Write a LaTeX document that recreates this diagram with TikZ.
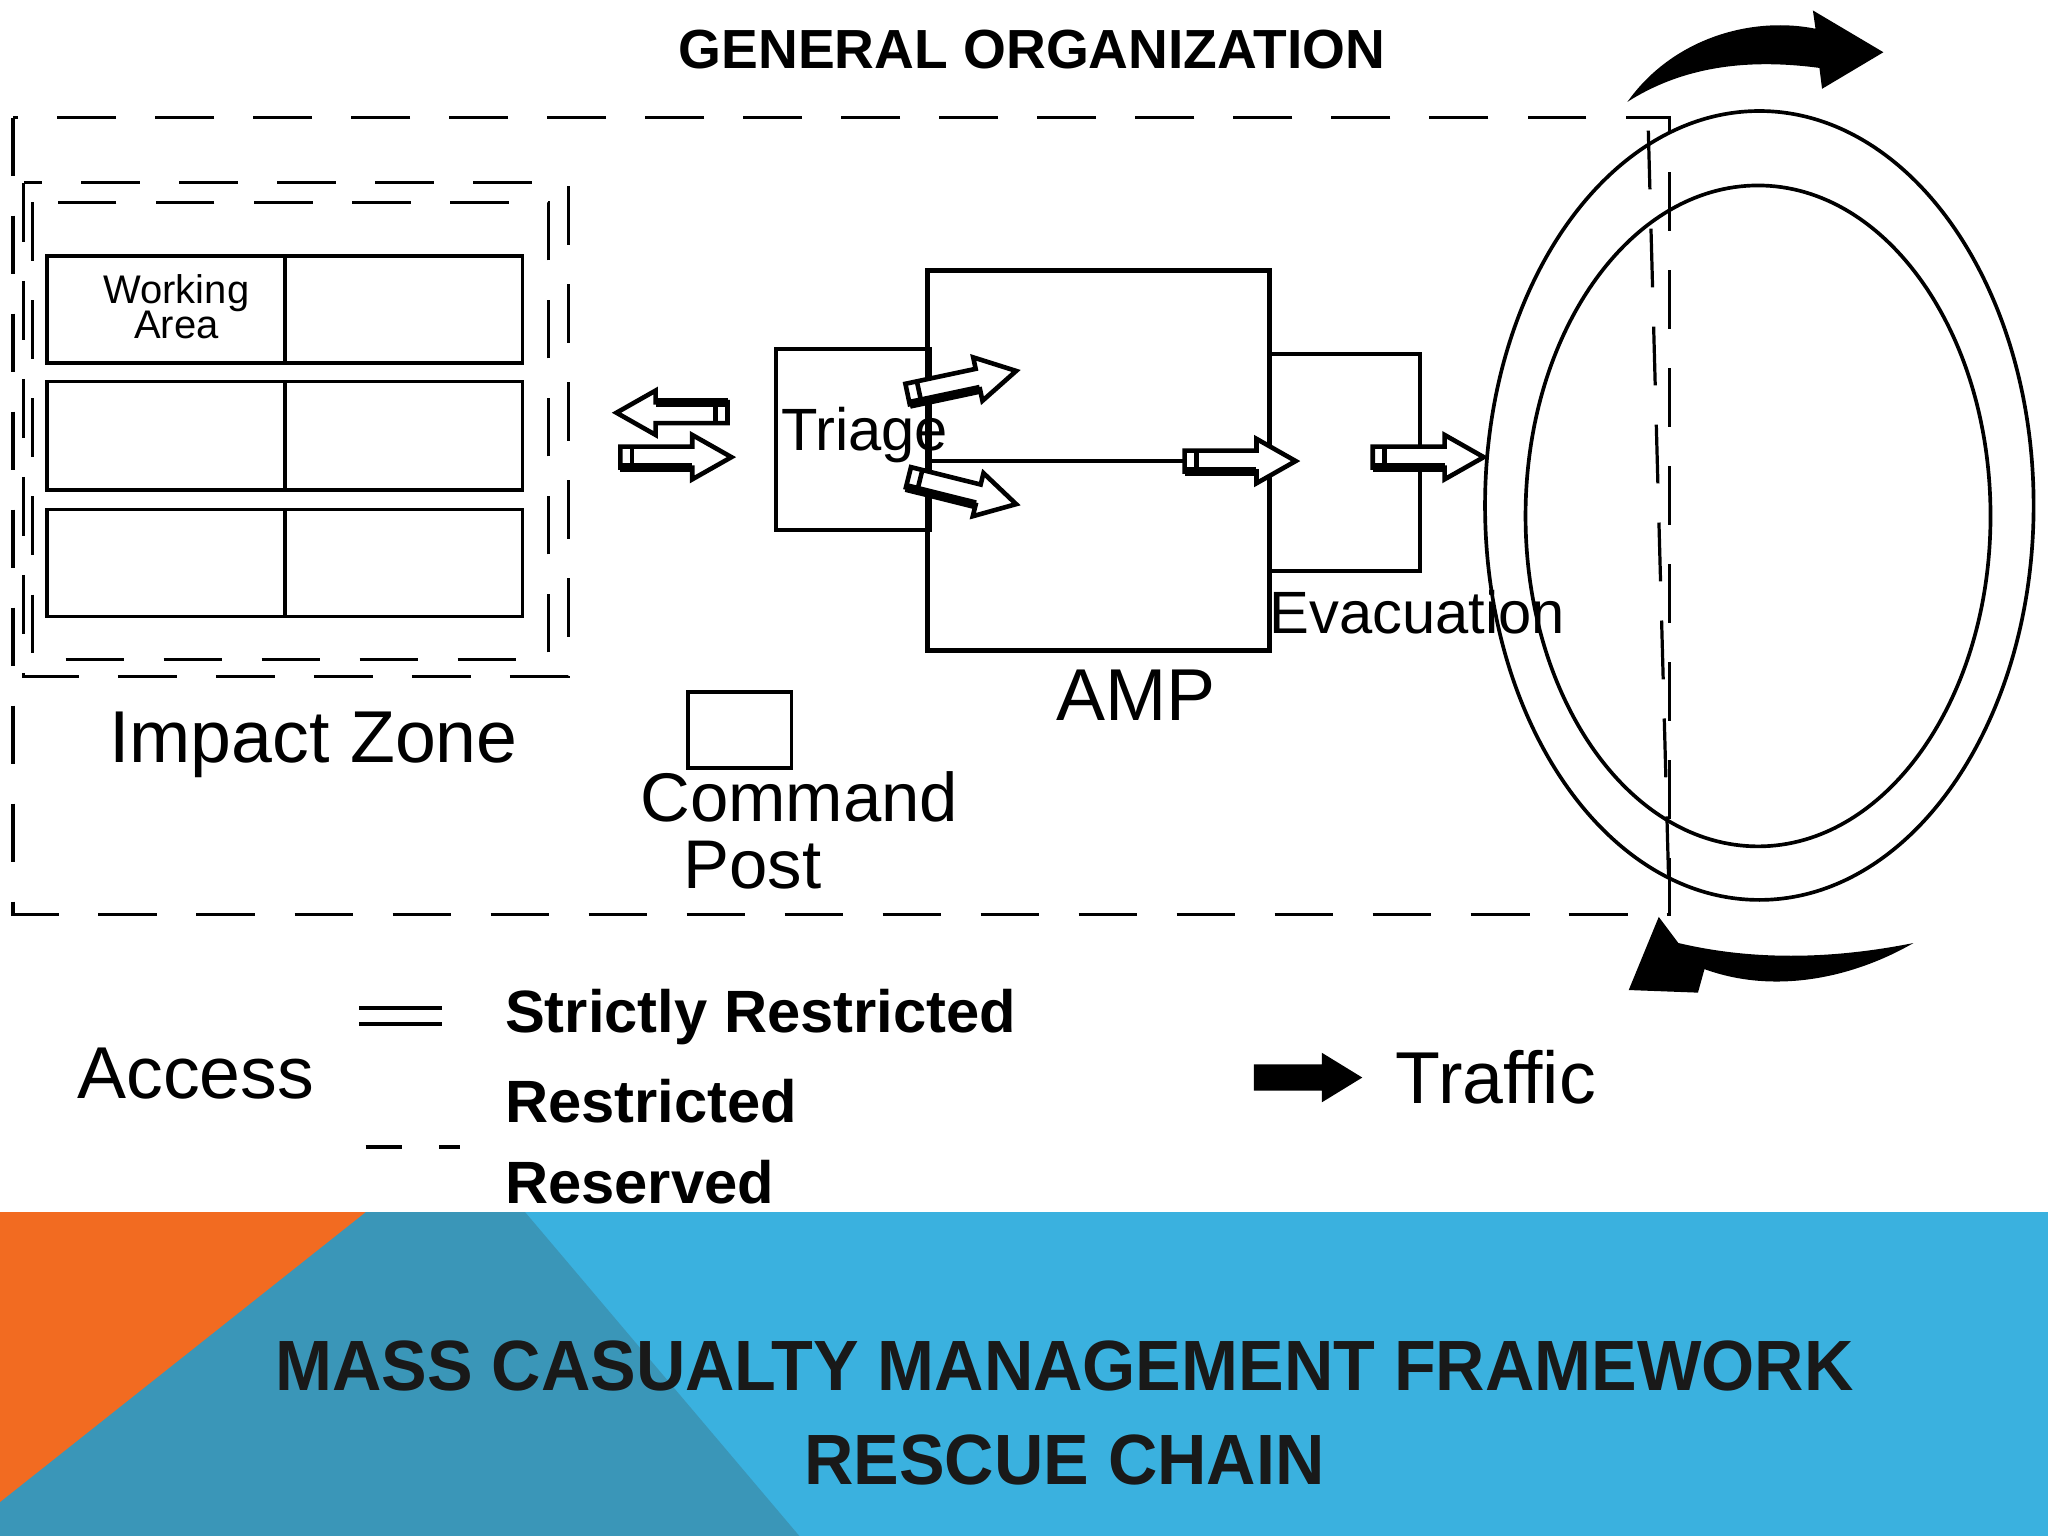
\documentclass[tikz,border=0pt]{standalone}
\usepackage{fontspec}
\setmainfont{Liberation Sans}
\definecolor{band}{HTML}{3AB1DF}
\definecolor{bandd}{HTML}{3A96B8}
\definecolor{org}{HTML}{F26B21}
\newcommand{\fs}[1]{\fontsize{#1}{#1}\selectfont}
\begin{document}
\begin{tikzpicture}[x=0.01cm,y=-0.01cm,
  box/.style={draw,line width=0.8pt},
  dsh/.style={draw,line width=0.7pt,dash pattern=on 4.5mm off 3mm},
  harrow/.pic={\draw[line width=1pt,fill=white] (-85,-8) -- (-30,-8) -- (-30,-17) -- (0,0) -- (-30,17) -- (-30,8) -- (-85,8) -- cycle;
     \draw[line width=2pt] (-85,8) -- (-30,8);
     \draw[line width=1pt] (-76,-8) -- (-76,8);},
  txt/.style={inner sep=0pt}]
\useasboundingbox (0,0) rectangle (1568,1176);
\fill[white] (0,0) rectangle (1568,1176);
% band
\fill[band] (0,928) rectangle (1568,1176);
\fill[bandd] (0,1176) -- (0,928) -- (402,928) -- (612,1176) -- cycle;
\fill[org] (0,928) -- (280,928) -- (0,1150) -- cycle;
\node[txt,font=\bfseries\fs{15.5},text=black!90] (t1) at (815,1046) {\scalebox{0.96}[1]{MASS CASUALTY MANAGEMENT FRAMEWORK}};
\node[txt,font=\bfseries\fs{15.5},text=black!90] (t2) at (815,1118) {\scalebox{0.96}[1]{RESCUE CHAIN}};
% title
\node[txt,font=\bfseries\fs{12}] (title) at (790,38) {GENERAL ORGANIZATION};
% outer zone
\draw[dsh] (10,90) rectangle (1278,700);
\draw[dsh] (18,140) rectangle (435,518);
\draw[dsh] (25,155) rectangle (420,505);
% working areas
\foreach \r/\ya/\yb in {1/196/278,2/292/375,3/390/472}{
  \draw[box] (36,\ya) rectangle (218,\yb);
  \draw[box] (218,\ya) rectangle (400,\yb);
}
\node[txt,font=\fs{8.7},align=center] (wa) at (135,235) {Working\\[-1pt]Area};
\node[txt,font=\fs{16}] (iz) at (240,570) {Impact Zone};
% arrows left
\pic[rotate=180] at (472,316) {harrow};
\pic at (560,350) {harrow};
% triage, AMP
\draw[box] (594,267) rectangle (712,406);
\draw[box,line width=1.2pt] (710,207) rectangle (972,498);
\draw[box] (710,353) -- (972,353);
\node[txt,font=\fs{13}] (triage) at (662,333) {Triage};
\node[txt,font=\fs{16}] (amp) at (870,532) {AMP};
\draw[box] (972,271) rectangle (1087,437);
\node[txt,font=\fs{13}] (evac) at (1085,469) {Evacuation};
\pic[rotate=12] at (778,284) {harrow};
\pic[rotate=-14] at (778,386) {harrow};
\pic at (992,353) {harrow};
\pic at (1136,350) {harrow};
% command post
\draw[box] (527,530) rectangle (606,588);
\node[txt,font=\fs{15}] (cp) at (612,610) {Command};
\node[txt,font=\fs{15}] (cp2) at (576,662) {Post};
% ellipses
\draw[line width=0.8pt] (1347,387) ellipse [x radius=210,y radius=302];
\draw[line width=0.8pt] (1346,395) ellipse [x radius=178,y radius=253];
\draw[dsh] (1262,100) -- (1278,690);
% curved traffic arrows
\fill (1246,78) .. controls (1280,30) and (1340,12) .. (1390,22) -- (1388,8) -- (1442,40) -- (1395,68) -- (1393,52) .. controls (1340,45) and (1290,50) .. (1246,78) -- cycle;
\fill (1465,722) .. controls (1420,748) and (1360,762) .. (1305,742) -- (1300,760) -- (1247,758) -- (1270,702) -- (1285,722) .. controls (1340,735) and (1400,735) .. (1465,722) -- cycle;
% legend
\node[txt,font=\fs{16}] (acc) at (150,822) {Access};
\draw[line width=0.8pt,dash pattern=on 18pt off 10pt] (275,772) -- (352,772) (275,784) -- (352,784);
\node[txt,font=\bfseries\fs{13},anchor=west] (sr) at (386,779) {Strictly Restricted};
\node[txt,font=\bfseries\fs{13},anchor=west] (re) at (386,843) {Restricted};
\draw[line width=0.8pt,dash pattern=on 8pt off 8pt] (280,878) -- (352,878);
\node[txt,font=\bfseries\fs{13},anchor=west] (rs) at (386,905) {Reserved};
\fill (960,815) -- (1012,815) -- (1012,806) -- (1043,825) -- (1012,844) -- (1012,835) -- (960,835) -- cycle;
\node[txt,font=\fs{16},anchor=west] (trt) at (1068,825) {Traffic};
\end{tikzpicture}
\end{document}
